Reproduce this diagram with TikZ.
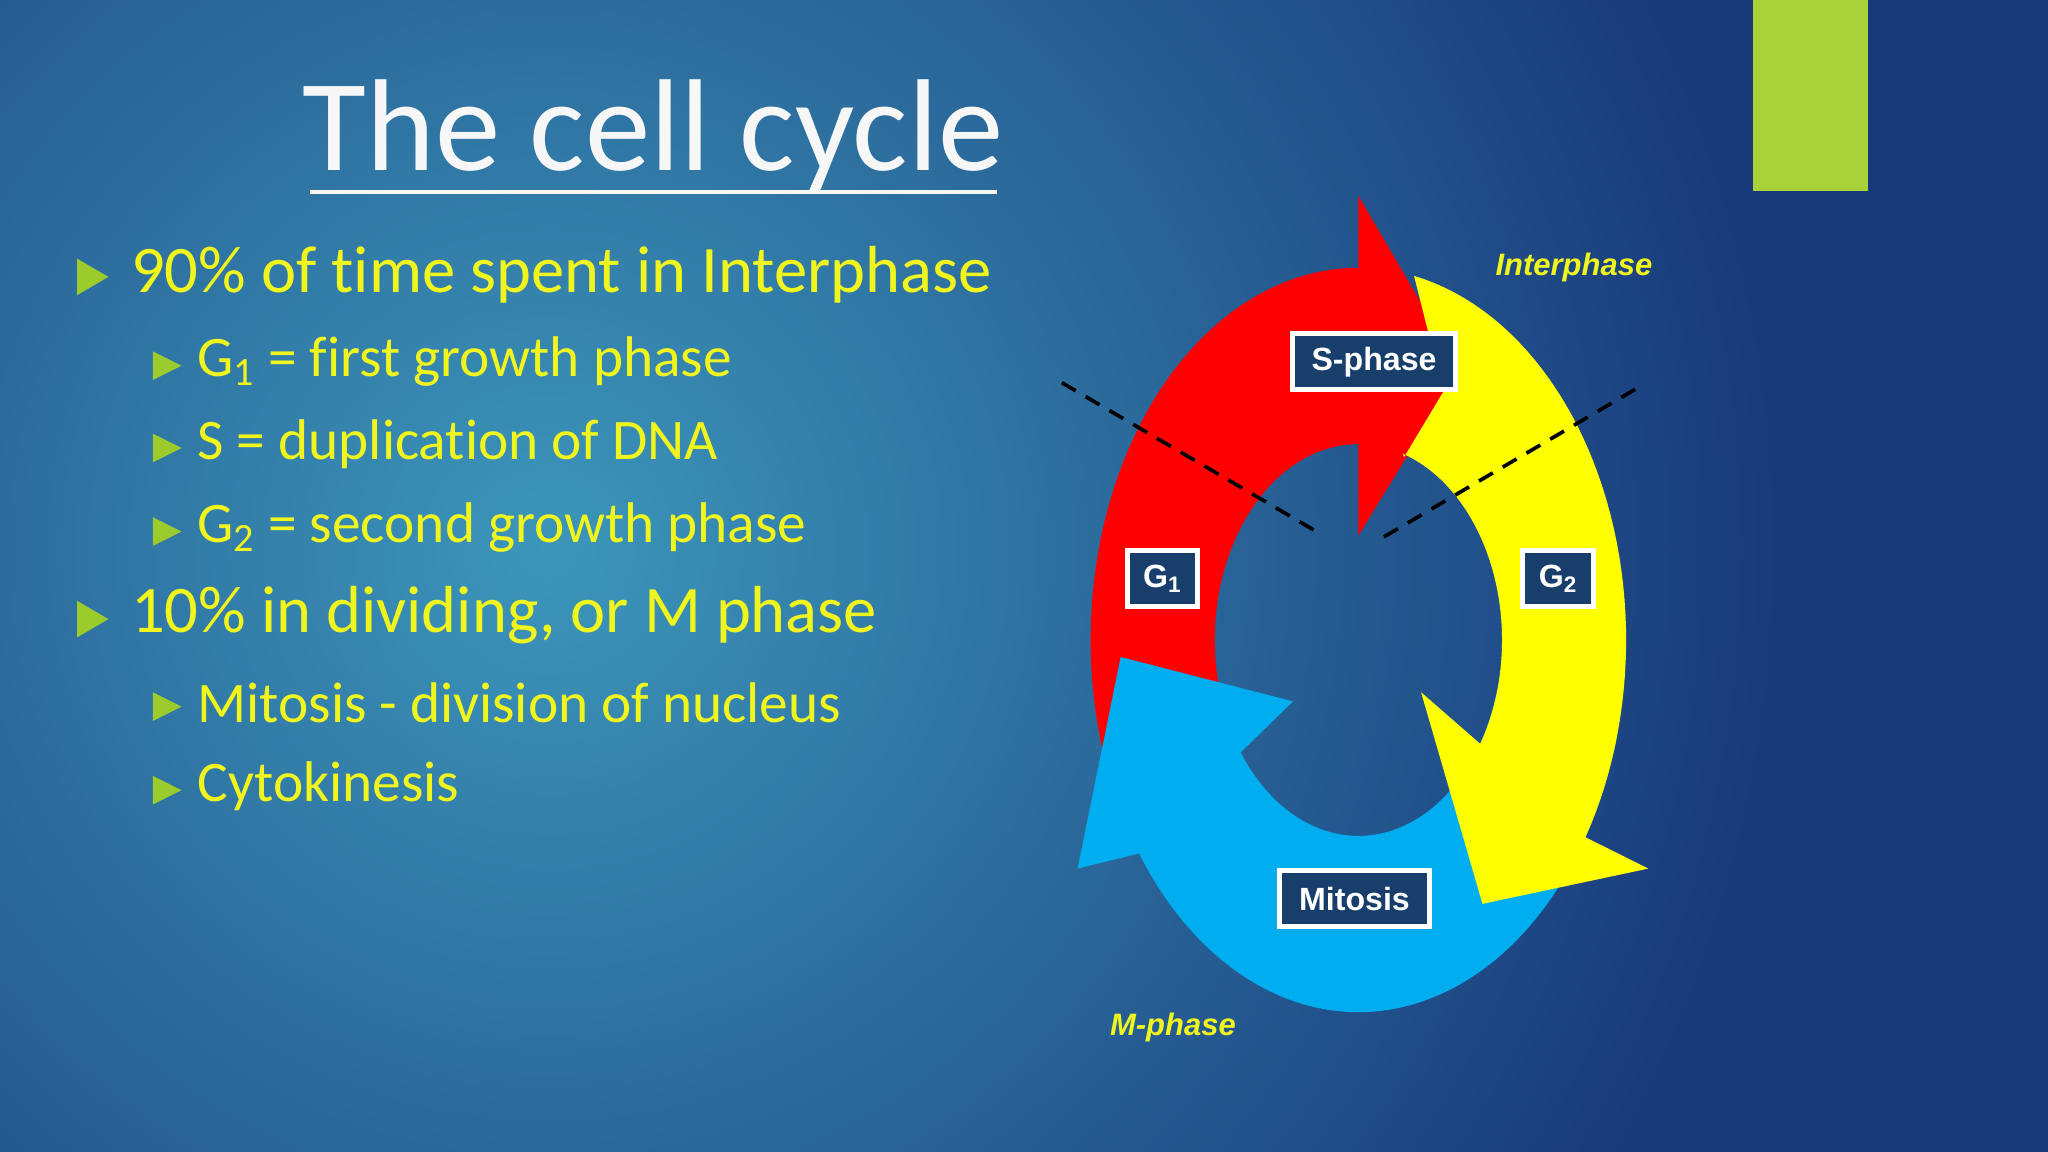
\documentclass[tikz,border=0pt]{standalone}
\usepackage{fontspec}
\setmainfont[Ligatures=CommonOff]{Carlito}
\newfontfamily\arialf{Liberation Sans}
\definecolor{bgin}{HTML}{3C96BA}
\definecolor{bgout}{HTML}{18397A}
\definecolor{txty}{HTML}{F0F51E}
\definecolor{bulg}{HTML}{9CCB2E}
\definecolor{greenbar}{HTML}{A8D13A}
\definecolor{boxb}{HTML}{183E6C}
\definecolor{cred}{HTML}{FF0000}
\definecolor{cyel}{HTML}{FFFF00}
\definecolor{cblu}{HTML}{00AEEF}
\tikzset{
  bigtxt/.style={anchor=west,text=txty,font=\fontsize{29}{34}\selectfont,inner sep=0},
  subtxt/.style={anchor=west,text=txty,font=\fontsize{25}{30}\selectfont,inner sep=0},
  phasebox/.style={draw=white,line width=2.2pt,fill=boxb,text=white,font=\arialf\bfseries\fontsize{14}{15}\selectfont,inner sep=3pt,minimum height=0.86cm},
  plabel/.style={text=txty,font=\arialf\bfseries\itshape\fontsize{13.5}{15}\selectfont},
  dline/.style={dashed,line width=1.6pt,dash pattern=on 7pt off 5pt},
}
\newcommand{\bigbul}[1]{\fill[bulg] (59,#1-14) -- (83,#1) -- (59,#1+14) -- cycle;}
\newcommand{\subbul}[1]{\fill[bulg] (117,#1-11) -- (139,#1) -- (117,#1+11) -- cycle;}
\begin{document}
\begin{tikzpicture}[x=0.02cm,y=-0.02cm]
\useasboundingbox (0,0) rectangle (1568,882);
\clip (0,0) rectangle (1568,882);
\fill[bgout] (0,0) rectangle (1568,882);
\shade[inner color=bgin,outer color=bgout] (420,420) circle (950);
\fill[greenbar] (1342,0) rectangle (1430,146);
% title
\node[text=white!94!gray,font=\fontsize{57}{62}\selectfont] (title) at (500,104) {The cell cycle};
\draw[white!94!gray,line width=1.6pt] (237,147) -- (763,147);
% bullets
\bigbul{212}\node[bigtxt] (b1) at (100,210) {90\% of time spent in Interphase};
\subbul{280}\node[subtxt] (s1) at (151,277) {G\textsubscript{1} = first growth phase};
\subbul{343}\node[subtxt] (s2) at (151,340) {S = duplication of DNA};
\subbul{407}\node[subtxt] (s3) at (151,404) {G\textsubscript{2} = second growth phase};
\bigbul{474}\node[bigtxt] (b2) at (100,471) {10\% in dividing, or M phase};
\subbul{541}\node[subtxt] (s4) at (151,538) {Mitosis - division of nucleus};
\subbul{605}\node[subtxt] (s5) at (151,602) {Cytokinesis};
% cycle: red
\fill[cred] plot[domain=197:90,samples=50] ({1040+205*cos(\x)},{490-285*sin(\x)})
  -- (1040,150) -- (1118,283) -- (1040,410) -- (1040,340)
  -- plot[domain=90:197,samples=50] ({1040+110*cos(\x)},{490-150*sin(\x)}) -- cycle;
% blue
\fill[cblu] plot[domain=-15:-145,samples=60] ({1040+205*cos(\x)},{490-285*sin(\x)})
  -- (825,665) -- (858,503) -- (990,537)
  -- plot[domain=-145:-15,samples=60] ({1040+110*cos(\x)},{490-150*sin(\x)}) -- cycle;
% yellow
\fill[cyel] plot[domain=78:-32,samples=50] ({1040+205*cos(\x)},{490-285*sin(\x)})
  -- (1262,665) -- (1135,692) -- (1088,530)
  -- plot[domain=-32:72,samples=50] ({1040+110*cos(\x)},{490-150*sin(\x)}) -- (1075,350) -- (1105,300) -- cycle;
% dashed lines
\coordinate (d1a) at (813,293); \coordinate (d1b) at (1008,407);
\coordinate (d2a) at (1252,298); \coordinate (d2b) at (1058,412);
\draw[dline] (d1a) -- (d1b);
\draw[dline] (d2a) -- (d2b);
% boxes
\node[phasebox,minimum width=2.5cm] (sp) at (1052,277) {S-phase};
\node[phasebox,minimum width=1.08cm] (g1) at (890,443) {G\textsubscript{1}};
\node[phasebox,minimum width=1.08cm] (g2) at (1193,443) {G\textsubscript{2}};
\node[phasebox,minimum width=2.3cm] (mi) at (1037,688) {Mitosis};
\node[plabel] (ip) at (1205,205) {Interphase};
\node[plabel] (mp) at (898,787) {M-phase};
\end{tikzpicture}
\end{document}
